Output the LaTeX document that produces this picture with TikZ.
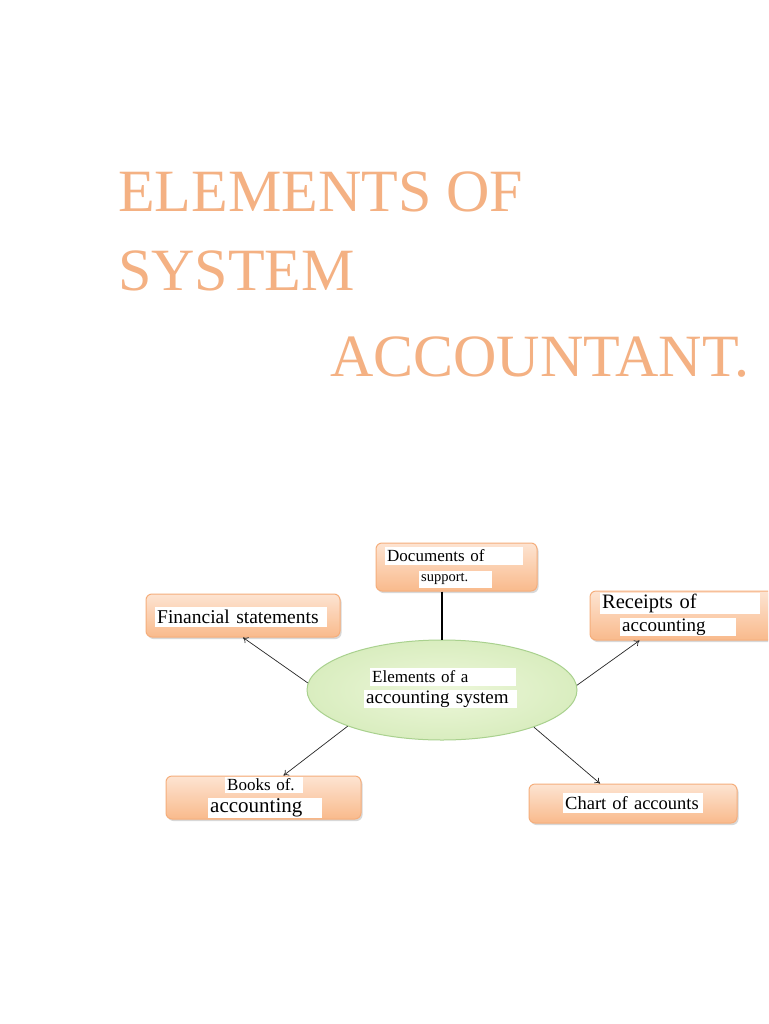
\documentclass[tikz,border=0pt]{standalone}
\usepackage{fontspec}
\setmainfont{Liberation Serif}
\usetikzlibrary{shapes.geometric,shadows,arrows.meta}
\definecolor{titleorange}{HTML}{F4B183}
\definecolor{boxline}{HTML}{F5AE7C}
\definecolor{boxtop}{HTML}{FDE4D2}
\definecolor{boxbottom}{HTML}{F9BA8C}
\definecolor{ovalline}{HTML}{A9D18E}
\definecolor{ovalinner}{HTML}{EDF7DA}
\definecolor{ovalouter}{HTML}{D9EDBF}
\begin{document}
\begin{tikzpicture}[x=1pt,y=-1pt,
    title/.style={anchor=base west,text=titleorange,font=\fontsize{60}{72}\selectfont,inner sep=0pt},
    elembox/.style={draw=boxline,line width=1pt,rounded corners=6pt,top color=boxtop,bottom color=boxbottom,
      drop shadow={shadow xshift=1.5pt,shadow yshift=-2pt,fill=black!30,opacity=.5},inner sep=0pt},
    oval/.style={ellipse,draw=ovalline,line width=1pt,inner color=ovalinner,outer color=ovalouter,
      minimum width=270pt,minimum height=100pt,inner sep=0pt},
    hilite/.style={fill=white,anchor=west,align=left,inner xsep=2pt,inner ysep=0pt},
    link/.style={draw=black!85,line width=.7pt,-{To[length=5pt,width=7pt]}}]
  \clip (0,0) rectangle (768,1024);
  \fill[white] (0,0) rectangle (768,1024);
  \node[title] (t1) at (118,212) {ELEMENTS OF};
  \node[title] (t2) at (118,290) {SYSTEM};
  \node[title] (t3) at (330,376) {ACCOUNTANT.};

  \node[elembox,minimum width=161pt,minimum height=48pt] (docs) at (456.5,567) {};
  \node[elembox,minimum width=194pt,minimum height=43pt] (fin) at (243,615.5) {};
  \node[elembox,minimum width=200pt,minimum height=49pt] (rec) at (690,615.5) {};
  \node[elembox,minimum width=195pt,minimum height=43pt] (books) at (263.5,797.5) {};
  \node[elembox,minimum width=208pt,minimum height=39pt] (chart) at (633,803.5) {};
  \node[oval] (elem) at (442,690) {};

  \node[hilite,text width=134pt,minimum height=18pt,font=\fontsize{17}{19}\selectfont] (docs1) at (385,556) {Documents of};
  \node[hilite,text width=69pt,minimum height=17pt,font=\fontsize{14.5}{16}\selectfont] (docs2) at (419,579) {support.};
  \node[hilite,text width=168pt,minimum height=20pt,font=\fontsize{19.5}{21}\selectfont] (fin1) at (155,617) {Financial statements};
  \node[hilite,text width=156pt,minimum height=21pt,font=\fontsize{20.5}{22}\selectfont] (rec1) at (600,603) {Receipts of};
  \node[hilite,text width=112pt,minimum height=18pt,font=\fontsize{19}{20}\selectfont] (rec2) at (620,627) {accounting};
  \node[hilite,text width=142pt,minimum height=18pt,font=\fontsize{17}{19}\selectfont] (elem1) at (370,677) {Elements of a};
  \node[hilite,text width=149pt,minimum height=18pt,font=\fontsize{19}{20}\selectfont] (elem2) at (364,699) {accounting system};
  \node[hilite,text width=74pt,minimum height=16pt,font=\fontsize{17}{18}\selectfont] (books1) at (225,785) {Books of.};
  \node[hilite,text width=110pt,minimum height=20pt,font=\fontsize{21}{22}\selectfont] (books2) at (208,808) {accounting};
  \node[hilite,text width=136pt,minimum height=20pt,font=\fontsize{18.5}{20}\selectfont] (chart1) at (563,803) {Chart of accounts};

  \draw[line width=1.5pt] (docs.south -| elem.north) -- (elem.north);
  \draw[link] (elem.177) -- (fin.south);
  \draw[link] (elem.2) -- ([xshift=50pt]rec.south west);
  \draw[link] (elem.201) -- ([xshift=20pt]books.north);
  \draw[link] (elem.338) -- ([xshift=-33pt]chart.north);
\end{tikzpicture}
\end{document}
